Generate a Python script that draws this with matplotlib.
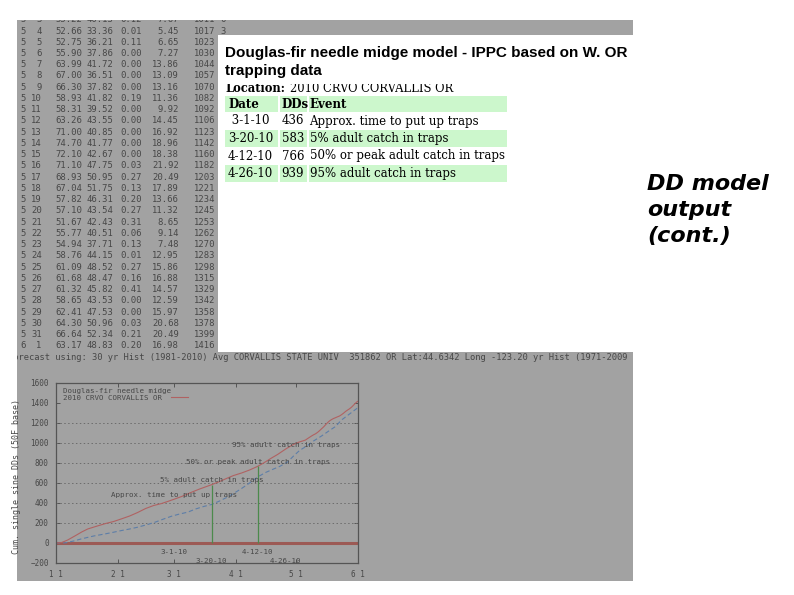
import matplotlib.pyplot as plt
from matplotlib.patches import Rectangle

# daily forecast table, May 3 - June 1 (month, day, max, min, precip, DDs, cum DDs)
tbl_month = [5] * 29 + [6]
tbl_day = [3, 4, 5, 6, 7, 8, 9, 10, 11, 12, 13, 14, 15, 16, 17, 18, 19, 20,
           21, 22, 23, 24, 25, 26, 27, 28, 29, 30, 31, 1]
tbl_max = ['55.22', '52.66', '52.75', '55.90', '63.99', '67.00', '66.30', '58.93',
           '58.31', '63.26', '71.00', '74.70', '72.10', '71.10', '68.93', '67.04',
           '57.82', '57.10', '51.67', '55.77', '54.94', '58.76', '61.09', '61.68',
           '61.32', '58.65', '62.41', '64.30', '66.64', '63.17']
tbl_min = ['40.13', '33.36', '36.21', '37.86', '41.72', '36.51', '37.82', '41.82',
           '39.52', '43.55', '40.85', '41.77', '42.67', '47.75', '50.95', '51.75',
           '46.31', '43.54', '42.43', '40.51', '37.71', '44.15', '48.52', '48.47',
           '45.82', '43.53', '47.53', '50.96', '52.34', '48.83']
tbl_prcp = ['0.12', '0.01', '0.11', '0.00', '0.00', '0.00', '0.00', '0.19', '0.00',
            '0.00', '0.00', '0.00', '0.00', '0.03', '0.27', '0.13', '0.20', '0.27',
            '0.31', '0.06', '0.13', '0.01', '0.27', '0.16', '0.41', '0.00', '0.00',
            '0.03', '0.21', '0.20']
tbl_dd = ['7.67', '5.45', '6.65', '7.27', '13.86', '13.09', '13.16', '11.36', '9.92',
          '14.45', '16.92', '18.96', '18.38', '21.92', '20.49', '17.89', '13.66',
          '11.32', '8.65', '9.14', '7.48', '12.95', '15.86', '16.88', '14.57', '12.59',
          '15.97', '20.68', '20.49', '16.98']
tbl_cum = [1011, 1017, 1023, 1030, 1044, 1057, 1070, 1082, 1092, 1106, 1123, 1142,
           1160, 1182, 1203, 1221, 1234, 1245, 1253, 1262, 1270, 1283, 1298, 1315,
           1329, 1342, 1358, 1378, 1399, 1416]
tbl_more = ['0', '3']
forecast_note = ('Forecast using: 30 yr Hist (1981-2010) Avg CORVALLIS STATE UNIV  '
                 '351862 OR Lat:44.6342 Long -123.20 yr Hist (1971-2009')

# cumulative DDs by day of year (Jan 1 = 0), 2010 before the forecast table
obs_days = [0, 3, 6, 10, 13, 16, 20, 25, 29, 33, 37, 41, 45, 49, 53, 56, 59, 63, 68,
            72, 78, 82, 86, 89, 93, 97, 101, 104, 108, 111, 115, 118, 120]
obs_dd = [0, 5, 30, 75, 110, 140, 165, 195, 215, 242, 270, 305, 345, 375, 395, 415,
          436, 465, 508, 540, 583, 615, 650, 675, 700, 730, 766, 800, 850, 885, 939,
          975, 995]
# 30 yr average curve
hist_days = [0, 5, 9, 13, 19, 25, 29, 33, 37, 41, 46, 50, 54, 58, 62, 66, 70, 74, 78,
             82, 86, 89, 93, 97, 101, 105, 109, 112, 116, 119, 122, 126, 129, 133,
             137, 140, 143, 146, 149, 151]
hist_dd = [0, 2, 20, 42, 70, 92, 108, 125, 140, 158, 185, 210, 240, 268, 290, 308,
           340, 365, 385, 420, 460, 495, 545, 600, 660, 705, 740, 765, 810, 870, 925,
           975, 1020, 1070, 1125, 1165, 1230, 1275, 1320, 1350]
month_offset = {5: 119, 6: 150}

ev_date = ['3-1-10', '3-20-10', '4-12-10', '4-26-10']
ev_day = [59, 78, 101, 115]
ev_dd = [436, 583, 766, 939]
ev_name = ['Approx. time to put up traps', '5% adult catch in traps',
           '50% or peak adult catch in traps', '95% adult catch in traps']
ev_marked = [False, True, True, False]
ev_date_row = [-90, -180, -90, -180]

month_ticks = [0, 31, 59, 90, 120, 151]
month_labels = ['1 1', '2 1', '3 1', '4 1', '5 1', '6 1']
dd_ticks = [-200, 0, 200, 400, 600, 800, 1000, 1200, 1400, 1600]
grid_levels = [200, 400, 600, 800, 1000, 1200]

side_lines = ['DD model', 'output', '(cont.)']

GRAY = '#a2a2a2'
INK = '#474747'
MONO = 'DejaVu Sans Mono'
GREEN_BG = '#ccf7cc'

fig = plt.figure(figsize=(7.94, 5.95), dpi=100)
bg = fig.add_axes([0, 0, 1, 1])
bg.set_xlim(0, 794)
bg.set_ylim(595, 0)
bg.axis('off')

bg.add_patch(Rectangle((16.5, 20), 616.5, 561, fc=GRAY, ec='none', zorder=1))

# monospace daily table
col_right = [26, 41.7, 82.5, 113, 141.7, 179, 215]
for i in range(len(tbl_day)):
    y = 19.8 + i * 11.24
    cells = [str(tbl_month[i]), str(tbl_day[i]), tbl_max[i], tbl_min[i],
             tbl_prcp[i], tbl_dd[i], str(tbl_cum[i])]
    for x, s in zip(col_right, cells):
        bg.text(x, y, s, ha='right', va='center', fontsize=6.4,
                family=MONO, color=INK, zorder=2)
    if i < len(tbl_more):
        bg.text(220, y, tbl_more[i], ha='left', va='center', fontsize=6.4,
                family=MONO, color=INK, zorder=2)

bg.text(8.5, 357.5, forecast_note, ha='left', va='center', fontsize=6.35,
        family=MONO, color=INK, zorder=2)

# slide background around the screenshot
bg.add_patch(Rectangle((0, 0), 794, 20, fc='white', ec='none', zorder=6))
bg.add_patch(Rectangle((0, 0), 16.5, 595, fc='white', ec='none', zorder=6))

# white event box
bg.add_patch(Rectangle((218, 35), 415, 317, fc='white', ec='none', zorder=3))
bg.text(225, 53, 'Douglas-fir needle midge model - IPPC based on W. OR',
        fontsize=11, weight='bold', family='Liberation Sans', va='center', zorder=4)
bg.text(225, 71, 'trapping data', fontsize=11, weight='bold',
        family='Liberation Sans', va='center', zorder=4)
bg.text(225, 89, 'Location:', fontsize=8.3, weight='bold', family='DejaVu Serif',
        va='center', zorder=4)
bg.text(290, 89, '2010 CRVO CORVALLIS OR', fontsize=8.3, family='DejaVu Serif',
        va='center', zorder=4)
bg.add_patch(Rectangle((218, 79), 300, 4.5, fc='white', ec='none', zorder=5))

cell_x = [(225, 277.5), (279.5, 306.5), (308.5, 507)]
text_x = [228, 281.7, 309.5]
row_y = [104, 121, 138.5, 156, 173.5]
rows = [['Date', 'DDs', 'Event']] + [[' ' * (7 - len(d)) + d if len(d) < 7 else d,
                                      str(v), n]
                                     for d, v, n in zip(ev_date, ev_dd, ev_name)]
for r, y in enumerate(row_y):
    if r % 2 == 0:
        for x0, x1 in cell_x:
            bg.add_patch(Rectangle((x0, y - 8.3), x1 - x0, 16.6, fc=GREEN_BG,
                                   ec='none', zorder=3))
    for x, s in zip(text_x, rows[r]):
        bg.text(x, y, s, fontsize=8.5, family='DejaVu Serif', va='center',
                weight='bold' if r == 0 else 'normal', zorder=4)

for k, s in enumerate(side_lines):
    bg.text(647, 190 + k * 26, s, fontsize=16, weight='bold', style='italic',
            family='DejaVu Sans', va='baseline', color='black')

# gnuplot-style DD chart
ax = fig.add_axes([55.7 / 794, 1 - 563 / 595, (357.5 - 55.7) / 794, 180 / 595])
ax.set_facecolor('none')

red_days = obs_days + [month_offset[m] + d for m, d in zip(tbl_month, tbl_day)]
red_dd = obs_dd + tbl_cum

for g in grid_levels:
    ax.axhline(g, color='#6c6c6c', lw=0.7, ls=(0, (1.5, 2.5)))
ax.axhline(0, color='#9c5a55', lw=2.2)
ax.plot(hist_days, hist_dd, color='#5d7ea8', lw=0.8, dashes=(4, 2.5))
ax.plot(red_days, red_dd, color='#b06262', lw=0.8, label='2010 CRVO CORVALLIS OR')
ax.vlines([d for d, m in zip(ev_day, ev_marked) if m],
          0, [v for v, m in zip(ev_dd, ev_marked) if m], color='#4c8a4c', lw=0.9)

for d, v, n, dt, dy in zip(ev_day, ev_dd, ev_name, ev_date, ev_date_row):
    ax.text(d, v + 45, n, ha='center', va='center', fontsize=5.4, family=MONO,
            color=INK)
    ax.text(d, dy, dt, ha='center', va='center', fontsize=5.4, family=MONO,
            color=INK)

ax.set_xlim(0, 151)
ax.set_ylim(-200, 1600)
ax.set_xticks(month_ticks, month_labels)
ax.set_yticks(dd_ticks)
ax.tick_params(direction='in', length=3, top=True, right=True, labelsize=5.5,
               labelcolor=INK, color='#555555', pad=5, width=0.7)
for lbl in ax.get_xticklabels() + ax.get_yticklabels():
    lbl.set_family(MONO)
for s in ax.spines.values():
    s.set_color('#555555')
    s.set_linewidth(0.9)

ax.set_ylabel('Cum. single sine DDs (50F base)', fontsize=6, family=MONO, color=INK)
ax.yaxis.set_label_coords(-0.115, 0.483)

leg = ax.legend(loc='upper left', bbox_to_anchor=(0.01, 1.0), frameon=False,
                markerfirst=False, title='Douglas-fir needle midge',
                prop={'family': MONO, 'size': 5.4}, borderaxespad=0.2,
                handlelength=2.3, handletextpad=1.2, alignment='left',
                labelspacing=0.1)
leg.get_title().set_family(MONO)
leg.get_title().set_fontsize(5.4)
leg.get_title().set_color(INK)
for txt in leg.get_texts():
    txt.set_color(INK)

fig.savefig('out.png', dpi=100)
